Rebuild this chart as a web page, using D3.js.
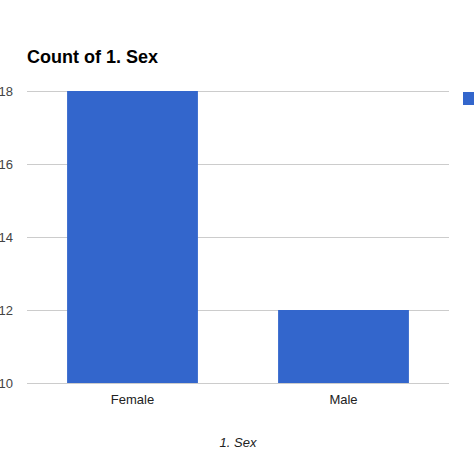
<!DOCTYPE html>
<html>
<head>
<meta charset="utf-8">
<script src="https://cdn.jsdelivr.net/npm/d3@7"></script>
<style>
  body { margin: 0; background: #fff; overflow: hidden; }
  text { font-family: "Liberation Sans", Arial, sans-serif; }
</style>
</head>
<body>
<svg id="chart" width="474" height="474"></svg>
<script>
const width = 474;
const height = 474;

const categories = ["Female", "Male"];
const counts = [18, 12];
const yTicks = [10, 12, 14, 16, 18];

const plot = { left: 27, right: 449, top: 91, bottom: 383 };

const svg = d3.select("#chart");

const xScale = d3.scaleBand()
  .domain(categories)
  .range([plot.left, plot.right])
  .paddingInner(0.38)
  .paddingOuter(0.19);

const yScale = d3.scaleLinear()
  .domain([10, 18])
  .range([plot.bottom, plot.top]);

// Title
svg.append("text")
  .attr("x", 27)
  .attr("y", 63)
  .attr("font-size", 18)
  .attr("font-weight", "bold")
  .attr("fill", "#000")
  .text("Count of 1. Sex");

// Gridlines + y labels
const yAxis = d3.axisLeft(yScale)
  .tickValues(yTicks)
  .tickSize(-(plot.right - plot.left))
  .tickPadding(14)
  .tickFormat(d3.format("d"));

const yg = svg.append("g")
  .attr("transform", `translate(${plot.left}, 0)`)
  .call(yAxis);
yg.select(".domain").remove();
yg.selectAll(".tick line").attr("stroke", "#ccc");
yg.selectAll(".tick text")
  .attr("font-size", 13)
  .attr("fill", "#444")
  .attr("font-family", "Liberation Sans, Arial, sans-serif");

// Bars
svg.selectAll(".bar")
  .data(categories)
  .enter()
  .append("rect")
  .attr("class", "bar")
  .attr("x", d => xScale(d))
  .attr("y", (d, i) => yScale(counts[i]))
  .attr("width", xScale.bandwidth())
  .attr("height", (d, i) => yScale(10) - yScale(counts[i]))
  .attr("fill", "#3366cc");

// X labels
const xAxis = d3.axisBottom(xScale).tickSize(0).tickPadding(12);
const xg = svg.append("g")
  .attr("transform", `translate(0, ${plot.bottom})`)
  .call(xAxis);
xg.select(".domain").remove();
xg.selectAll(".tick text")
  .attr("font-size", 13)
  .attr("fill", "#222")
  .attr("font-family", "Liberation Sans, Arial, sans-serif");

// X axis title
svg.append("text")
  .attr("x", (plot.left + plot.right) / 2)
  .attr("y", 447)
  .attr("text-anchor", "middle")
  .attr("font-size", 13)
  .attr("font-style", "italic")
  .attr("fill", "#222")
  .text("1. Sex");

// Legend (cut off at right edge)
svg.append("rect")
  .attr("x", 463)
  .attr("y", 92)
  .attr("width", 13)
  .attr("height", 13)
  .attr("fill", "#3366cc");
</script>
</body>
</html>
